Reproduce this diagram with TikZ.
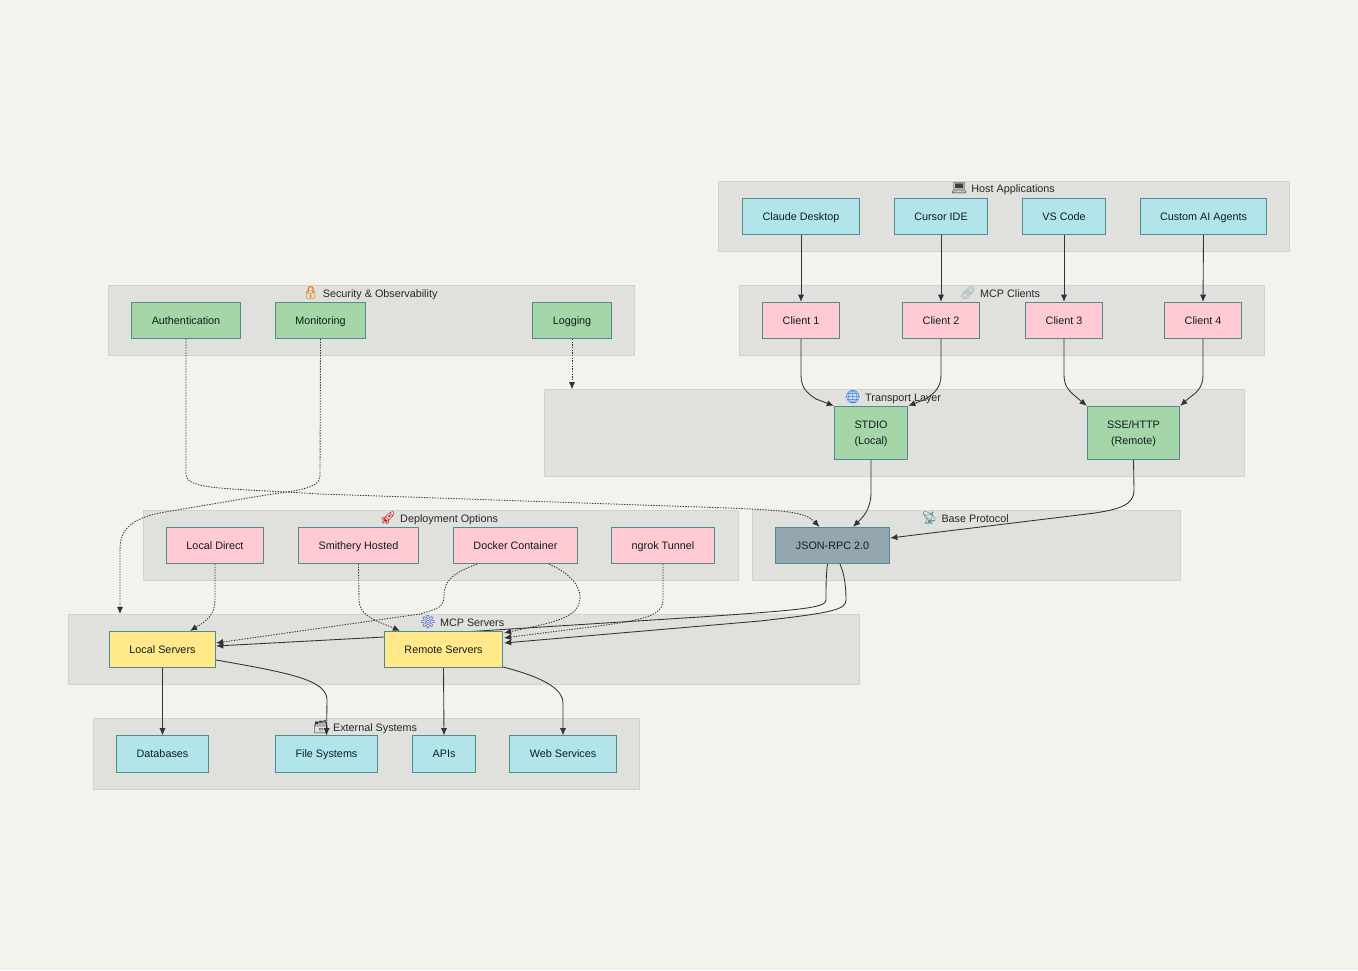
\documentclass[tikz,border=0pt]{standalone}
\usepackage{fontspec}
\setmainfont{Liberation Sans}
\newfontfamily\emojifont{Noto Emoji}
\usetikzlibrary{arrows.meta}
\definecolor{pagebg}{HTML}{F3F3EE}
\definecolor{groupbg}{HTML}{E0E0DC}
\definecolor{groupln}{HTML}{D2D2CE}
\definecolor{cyanbox}{HTML}{B2E5EA}
\definecolor{pinkbox}{HTML}{FFCAD4}
\definecolor{greenbox}{HTML}{A5D6A7}
\definecolor{yellowbox}{HTML}{FFE98A}
\definecolor{slatebox}{HTML}{94A7B1}
\definecolor{boxln}{HTML}{4F8C91}
\definecolor{wire}{HTML}{333333}
\pgfdeclarelayer{grouplayer}
\pgfdeclarelayer{wirelayer}
\pgfsetlayers{grouplayer,wirelayer,main}
\newcommand{\grpicon}[2]{{\emojifont\fontsize{9.6}{12}\selectfont\textcolor{#1}{\symbol{#2}}}\hspace{3pt}}
\tikzset{
 sz/.style 2 args={minimum width=#1*0.75pt-0.5pt,minimum height=#2*0.75pt-0.5pt},
 group/.style={rectangle,draw=groupln,fill=groupbg,line width=0.7pt,inner sep=0pt},
 grouplabel/.style={inner sep=0pt,text=black!85,font=\fontsize{8.1}{12}\selectfont},
 box/.style={rectangle,draw=boxln,line width=0.7pt,inner sep=0pt,align=center,text=black!80!boxln,text height=6.75pt,text depth=0.95pt,font=\fontsize{8.1}{12}\selectfont},
 twolines/.style={text height=18pt,text depth=1.5pt},
 hostbox/.style={box,fill=cyanbox},
 clientbox/.style={box,fill=pinkbox},
 greenitem/.style={box,fill=greenbox},
 serverbox/.style={box,fill=yellowbox},
 rpcbox/.style={box,fill=slatebox},
 link/.style={draw=wire,line width=0.65pt,-{Latex[length=5.4pt,width=4.6pt]}},
 dotlink/.style={link,dash pattern=on 1pt off 1pt},
}
\begin{document}
\begin{tikzpicture}[x=0.75pt,y=-0.75pt]
 % groups
 \begin{pgfonlayer}{grouplayer}
 \fill[pagebg] (0,0) rectangle (1358,970);
 \node[group,sz={571.5}{70}] (hostgrp) at (1004,216.5) {};
 \node[group,sz={525.5}{70}] (clientgrp) at (1002,320.5) {};
 \node[group,sz={526.5}{70}] (securegrp) at (371.5,320.5) {};
 \node[group,sz={700.5}{87}] (transgrp) at (894.5,433) {};
 \node[group,sz={596}{70}] (deploygrp) at (441,545.5) {};
 \node[group,sz={428.5}{70}] (basegrp) at (966.5,545.5) {};
 \node[group,sz={791.5}{70}] (servergrp) at (464,649.5) {};
 \node[group,sz={546.5}{71}] (extgrp) at (366.5,754) {};
 \node[grouplabel] (hostlbl) at (1003,188.5) {\grpicon{black!75}{"1F4BB}Host Applications};
 \node[grouplabel] (clientlbl) at (1000,293) {\grpicon{boxln!70}{"1F517}MCP Clients};
 \node[grouplabel] (securelbl) at (370,293) {\grpicon{orange!90!black}{"1F512}Security \& Observability};
 \node[grouplabel] (translbl) at (893,397) {\grpicon{blue!60!cyan}{"1F310}Transport Layer};
 \node[grouplabel] (deploylbl) at (439,518) {\grpicon{red!75!black}{"1F680}Deployment Options};
 \node[grouplabel] (baselbl) at (965,518) {\grpicon{boxln}{"1F4E1}Base Protocol};
 \node[grouplabel] (serverlbl) at (462,622) {\grpicon{blue!50!boxln}{"2699}MCP Servers};
 \node[grouplabel] (extlbl) at (365,727) {\grpicon{black!80}{"1F5C3}External Systems};
 \end{pgfonlayer}
 % boxes
 \node[hostbox,sz={118}{37}] (claude) at (801,216.5) {Claude Desktop};
 \node[hostbox,sz={94}{37}] (cursor) at (941,216.5) {Cursor IDE};
 \node[hostbox,sz={84}{37}] (vscode) at (1064,216.5) {VS Code};
 \node[hostbox,sz={127}{37}] (custom) at (1203.5,216.5) {Custom AI Agents};
 \node[clientbox,sz={78}{37}] (client1) at (801,320.5) {Client 1};
 \node[clientbox,sz={78}{37}] (client2) at (941,320.5) {Client 2};
 \node[clientbox,sz={78}{37}] (client3) at (1064,320.5) {Client 3};
 \node[clientbox,sz={78}{37}] (client4) at (1203,320.5) {Client 4};
 \node[greenitem,sz={110}{37}] (auth) at (186,320.5) {Authentication};
 \node[greenitem,sz={91}{37}] (monitor) at (320.5,320.5) {Monitoring};
 \node[greenitem,sz={80}{37}] (logging) at (572,320.5) {Logging};
 \node[greenitem,twolines,sz={74}{54}] (stdio) at (871,433) {STDIO\\(Local)};
 \node[greenitem,twolines,sz={93}{54}] (sse) at (1133.5,433) {SSE/HTTP\\(Remote)};
 \node[clientbox,sz={98}{37}] (localdir) at (215,545.5) {Local Direct};
 \node[clientbox,sz={121}{37}] (smithery) at (358.5,545.5) {Smithery Hosted};
 \node[clientbox,sz={125}{37}] (docker) at (515.5,545.5) {Docker Container};
 \node[clientbox,sz={104}{37}] (ngrok) at (663,545.5) {ngrok Tunnel};
 \node[rpcbox,sz={115}{37}] (jsonrpc) at (832.5,545.5) {JSON-RPC 2.0};
 \node[serverbox,sz={107}{37}] (localsrv) at (162.5,649.5) {Local Servers};
 \node[serverbox,sz={119}{37}] (remotesrv) at (443.5,649.5) {Remote Servers};
 \node[hostbox,sz={93}{37}] (databases) at (162.5,754) {Databases};
 \node[hostbox,sz={103}{37}] (filesys) at (326.5,754) {File Systems};
 \node[hostbox,sz={64}{37}] (apis) at (444,754) {APIs};
 \node[hostbox,sz={108}{37}] (websvc) at (563,754) {Web Services};
 % connectors
 \begin{pgfonlayer}{wirelayer}
 \draw[link] (claude.south) -- (client1.north);
 \draw[link] (cursor.south) -- (client2.north);
 \draw[link] (vscode.south) -- (client3.north);
 \draw[link] (custom.south) -- (client4.north);
 \draw[link] (client1.south) -- (801,375) .. controls (801,388) and (807,393) .. (816,399) -- (stdio.north west);
 \draw[link] (client2.south) -- (941,375) .. controls (941,388) and (934,393) .. (926,399) -- (stdio.north east);
 \draw[link] (client3.south) -- (1064,375) .. controls (1064,386) and (1069,391) .. (1075,396) -- (sse.north west);
 \draw[link] (client4.south) -- (1203,375) .. controls (1203,388) and (1196,393) .. (1189,398) -- (sse.north east);
 \draw[link] (stdio.south) -- (871,492) .. controls (871,510) and (862,518) .. ([xshift=20.5*0.75pt]jsonrpc.north);
 \draw[link] (sse.south) -- (1134,490) .. controls (1134,505) and (1120,509) .. (1095,513) -- (jsonrpc.east |- 0,538);
 \draw[dotlink] (logging.south) -- (logging.south |- transgrp.north);
 \draw[dotlink] (auth.south) -- (186,474) .. controls (186,490) and (225,488) .. (320,494) -- (700,507) .. controls (790,510) and (805,512) .. ([xshift=-13*0.75pt]jsonrpc.north);
 \draw[dotlink] (monitor.south) -- (320,476) .. controls (320,490) and (290,491) .. (260,496) -- (165,512) .. controls (130,518) and (120,530) .. (120,550) -- (120,614);
 \draw[dotlink] (localdir.south) -- (215,600) .. controls (215,617) and (203,623) .. ([xshift=27.5*0.75pt]localsrv.north);
 \draw[dotlink] (smithery.south) -- (359,600) .. controls (359,617) and (380,622) .. ([xshift=-43.5*0.75pt]remotesrv.north);
 \draw[dotlink] ([xshift=-38.5*0.75pt]docker.south) .. controls (455,572) and (444,580) .. (444,595) .. controls (444,607) and (440,608) .. (420,614) -- (216,643);
 \draw[dotlink] ([xshift=33.5*0.75pt]docker.south) .. controls (568,572) and (580,585) .. (580,597) .. controls (580,618) and (555,622) .. (504,633);
 \draw[dotlink] (ngrok.south) -- (663,600) .. controls (663,622) and (625,622) .. (504,638);
 \draw[link] ([xshift=-5*0.75pt]jsonrpc.south) .. controls (826,575) and (826,585) .. (826,600) .. controls (826,608) and (800,610) .. (700,617) -- (384,637) -- (216,646);
 \draw[link] ([xshift=7.5*0.75pt]jsonrpc.south) .. controls (845,575) and (846,590) .. (846,600) .. controls (846,610) and (830,613) .. (760,621) -- (504,643);
 \draw[link] (localsrv.south) -- (databases.north);
 \draw[link] (localsrv.east |- 0,660) .. controls (290,673) and (327,680) .. (327,700) -- (filesys.north);
 \draw[link] (remotesrv.south) -- (apis.north);
 \draw[link] (remotesrv.east |- 0,667) .. controls (530,674) and (563,685) .. (563,703) -- (websvc.north);
 \end{pgfonlayer}
\end{tikzpicture}
\end{document}
